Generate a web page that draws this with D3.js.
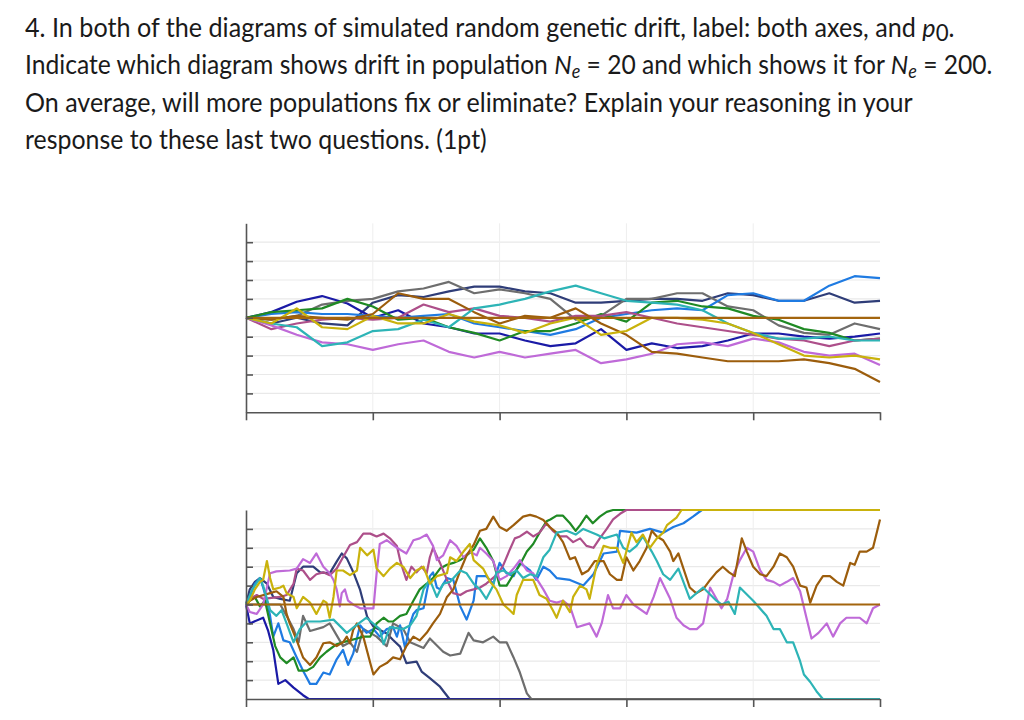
<!DOCTYPE html>
<html>
<head>
<meta charset="utf-8">
<script src="https://cdn.jsdelivr.net/npm/d3@7"></script>
<style>
  body { margin: 0; background: #fff; }
  svg { display: block; }
  .q { font-family: Lato, "Open Sans", sans-serif; font-size: 26px; fill: #1a1a1a; }
</style>
</head>
<body>
<svg id="page" width="1024" height="720"></svg>
<script>
// question text, one entry per printed line
const questionLines = [
  [{ t: '4. In both of the diagrams of simulated random genetic drift, label: both axes, and ' }, { t: 'p', i: true }, { t: '0', sub: true }, { t: '.' }],
  [{ t: 'Indicate which diagram shows drift in population ' }, { t: 'N', i: true }, { t: 'e', i: true, sub: true }, { t: ' = 20 and which shows it for ' }, { t: 'N', i: true }, { t: 'e', i: true, sub: true }, { t: ' = 200.' }],
  [{ t: 'On average, will more populations fix or eliminate? Explain your reasoning in your' }],
  [{ t: 'response to these last two questions. (1pt)' }]
];
const lineWidths = [930, 968, 888, 462];

const xTicks = [0, 20, 40, 60, 80, 100];
const yTicks = [0.1, 0.2, 0.3, 0.4, 0.5, 0.6, 0.7, 0.8, 0.9];
const p0 = 0.5;

// upper diagram (large population), read every 4 generations
const topGens = [0, 4, 8, 12, 16, 20, 24, 28, 32, 36, 40, 44, 48, 52, 56, 60, 64, 68, 72, 76, 80, 84, 88, 92, 96, 100];
const topGray = [.50, .49, .51, .57, .59, .60, .64, .655, .69, .63, .65, .63, .60, .49, .51, .60, .60, .63, .63, .56, .54, .46, .42, .41, .47, .44];
const topSlate = [.50, .47, .50, .47, .46, .58, .62, .61, .64, .665, .665, .64, .63, .58, .58, .59, .60, .60, .59, .63, .62, .59, .59, .63, .58, .59];
const topDarkBlue = [.50, .53, .585, .615, .576, .50, .54, .47, .45, .417, .417, .38, .35, .365, .44, .33, .365, .34, .35, .38, .417, .417, .40, .39, .40, .417];
const topBlue = [.50, .52, .53, .52, .52, .51, .50, .51, .52, .47, .45, .43, .41, .44, .50, .52, .54, .55, .54, .62, .63, .59, .59, .67, .72, .71];
const topGreen = [.50, .53, .54, .55, .60, .56, .49, .50, .45, .42, .38, .43, .43, .47, .52, .48, .58, .59, .56, .55, .51, .49, .44, .42, .38, .39];
const topPlum = [.50, .44, .47, .49, .50, .49, .50, .57, .53, .55, .51, .50, .48, .51, .51, .53, .50, .47, .45, .43, .41, .39, .38, .35, .38, .39];
const topPurple = [.50, .46, .41, .37, .36, .33, .36, .38, .32, .29, .32, .29, .31, .33, .26, .28, .31, .36, .37, .35, .39, .37, .32, .30, .31, .25];
const topBrown = [.50, .49, .51, .50, .49, .52, .63, .60, .60, .53, .47, .51, .50, .55, .47, .41, .32, .31, .29, .27, .27, .27, .28, .26, .23, .16];
const topCyan = [.50, .47, .45, .35, .37, .43, .44, .49, .45, .55, .57, .60, .64, .67, .63, .59, .58, .57, .54, .47, .42, .39, .39, .40, .38, .38];
const topYellow = [.50, .47, .55, .45, .44, .51, .47, .47, .52, .48, .46, .42, .47, .50, .41, .43, .50, .50, .49, .47, .42, .36, .30, .29, .30, .28];

// lower diagram (small population), [generation, frequency] at turning points
const botSlate = [[0, .5], [0.6, .58], [1.4, .62], [2.2, .64], [3.3, .61], [4.3, .54], [5.4, .53], [6.9, .52], [8, .665], [9, .70], [10.6, .70], [11.7, .67], [13.2, .665], [14.3, .727], [15.1, .77], [15.9, .744], [17, .665], [18, .577], [19.1, .436], [20.1, .383], [22.2, .347], [23.2, .312], [24.3, .277], [25.3, .19], [26.9, .198], [27.7, .145], [29, .11], [30.6, .065], [32.1, 0], [100, 0]];
const botDarkBlue = [[0, .5], [0.6, .40], [2.7, .43], [3.5, .36], [4.3, .26], [5.1, .08], [6.2, .10], [7.5, .06], [9, .02], [9.9, 0], [100, 0]];
const botGray = [[0, .5], [2.7, .5], [5.4, .5], [6.4, .44], [7.5, .37], [8.3, .30], [9, .44], [10.1, .36], [12.2, .38], [13.2, .40], [15.3, .28], [16.4, .30], [17.5, .25], [18.5, .37], [20.6, .33], [22.2, .28], [23.2, .40], [24.8, .37], [25.9, .30], [28, .27], [29, .32], [31.1, .25], [32.2, .23], [33.8, .24], [35.1, .35], [35.9, .31], [37.4, .30], [39, .33], [40, .30], [41.1, .30], [42.2, .22], [43.2, .14], [44.3, .03], [45, 0], [100, 0]];
const botBlue = [[0, .5], [0.6, .54], [1.4, .61], [2.2, .64], [2.7, .59], [3.3, .52], [3.8, .44], [4.3, .33], [5.1, .40], [5.9, .31], [6.9, .30], [8, .22], [9, .15], [10.1, .08], [11.1, .08], [12.2, .14], [13.2, .13], [14.3, .21], [15.3, .26], [16.1, .18], [16.9, .24], [18, .39], [19, .35], [20.1, .37], [21.1, .33], [22.2, .37], [23.2, .38], [23.8, .33], [24.3, .39], [25.1, .27], [25.9, .40], [26.4, .45], [26.9, .47], [28, .48], [29, .65], [29.5, .67], [30.1, .59], [30.6, .58], [31.7, .64], [32.7, .63], [33.8, .49], [34.8, .42], [35.9, .52], [36.4, .65], [37.9, .65], [39, .61], [40, .72], [41.1, .665], [42.2, .65], [43.2, .72], [44.8, .68], [45.8, .63], [46.9, .70], [47.9, .68], [49, .64], [51.1, .63], [53.2, .60], [54.8, .66], [56.4, .77], [58.5, .78], [59, .89], [61.6, .88], [63.7, .90], [65.8, .88], [67.4, .91], [69, .93], [70.5, .965], [71.9, 1], [100, 1]];
const botGreen = [[0, .5], [0.6, .52], [1.4, .54], [2.2, .49], [3, .52], [3.8, .40], [4.6, .28], [5.4, .22], [6.4, .19], [7.5, .22], [8.3, .15], [9.6, .15], [10.6, .17], [11.7, .22], [12.7, .25], [14.3, .29], [15.3, .30], [16.4, .31], [17.5, .32], [18.5, .33], [19.6, .33], [20.6, .40], [21.7, .43], [22.5, .41], [23.2, .41], [24.3, .44], [25.3, .45], [26.4, .52], [27.4, .58], [28.5, .61], [29.5, .64], [30.6, .69], [31.7, .71], [32.7, .72], [33.8, .735], [34.8, .76], [35.9, .79], [36.9, .85], [37.9, .80], [39, .73], [40, .60], [41.1, .60], [42.2, .66], [43.2, .71], [44.3, .78], [45.3, .82], [46.3, .88], [47.4, .94], [48, .95], [49, .97], [50, .97], [51.1, .93], [52, .89], [52.7, .92], [53.7, .97], [54.7, .93], [55.8, .965], [56.9, .99], [57.9, 1], [100, 1]];
const botPlum = [[0, .5], [0.6, .53], [1.7, .55], [2.7, .53], [5.4, .54], [6.4, .55], [7.5, .61], [8, .69], [9, .68], [10.1, .63], [11.1, .66], [12.2, .67], [13.2, .655], [14.3, .69], [15.3, .75], [16.4, .815], [17.5, .83], [18.5, .875], [19.6, .875], [20.6, .86], [21.7, .875], [22.7, .85], [23.8, .81], [24.3, .735], [24.8, .68], [25.3, .63], [26.1, .70], [26.9, .67], [27.7, .70], [28.5, .665], [29, .75], [29.5, .80], [30.6, .72], [31.7, .63], [32.7, .56], [33.8, .55], [34.8, .57], [35.9, .58], [36.9, .59], [37.9, .61], [39.5, .655], [40, .675], [40.6, .71], [41.6, .79], [42.4, .85], [43.2, .86], [44.3, .885], [45.3, .86], [46.3, .88], [47.4, .93], [48.4, .89], [49.5, .86], [50.6, .86], [51.6, .83], [52.7, .85], [53.7, .81], [54.8, .80], [55.8, .85], [56.9, .90], [57.9, .95], [59, .98], [60, 1], [100, 1]];
const botPurple = [[0, .5], [0.6, .46], [1.7, .45], [2.7, .50], [3.8, .665], [4.8, .675], [6.9, .68], [8, .69], [9, .74], [10.1, .72], [11.1, .77], [12.2, .70], [13.2, .665], [13.8, .63], [14.3, .58], [14.8, .49], [15.1, .56], [15.6, .58], [16.1, .52], [16.9, .50], [18, .48], [20.1, .48], [20.6, .665], [21.1, .82], [22.2, .84], [23.8, .80], [25.3, .77], [26.4, .84], [27.4, .85], [28.5, .87], [29.5, .81], [30.1, .735], [31.1, .76], [32.2, .84], [33.2, .81], [34.3, .75], [35.3, .78], [36.4, .76], [36.9, .80], [37.9, .77], [39, .73], [40, .63], [41.1, .65], [42.2, .69], [43.2, .735], [44.3, .68], [45.3, .665], [46.9, .58], [47.9, .52], [49, .51], [50, .52], [51.1, .49], [52.2, .38], [54.2, .40], [55.3, .33], [56.1, .40], [57.1, .55], [57.9, .48], [59, .48], [60, .55], [61.1, .50], [63.2, .45], [64.3, .54], [65.3, .64], [66.9, .53], [67.9, .43], [69, .39], [70, .37], [71.1, .37], [72.1, .40], [73.2, .59], [74.2, .53], [75, .48], [75.9, .53], [76.9, .66], [77.9, .735], [79, .80], [80, .78], [81.1, .68], [82.1, .63], [83.2, .62], [84.2, .60], [85.3, .62], [86.3, .64], [87.4, .57], [88.4, .43], [89.2, .32], [90.3, .35], [91.6, .40], [92.6, .33], [93.7, .40], [94.7, .43], [96.8, .43], [97.9, .40], [98.9, .48], [100, .50]];
const botBrown = [[0, .5], [0.6, .52], [1.7, .54], [3.8, .56], [4.8, .57], [5.9, .54], [6.4, .45], [6.9, .40], [8, .31], [9, .22], [10.1, .18], [11.1, .22], [12.2, .295], [13.2, .30], [14.3, .28], [15.3, .30], [15.9, .33], [16.4, .295], [16.9, .365], [17.5, .40], [18.5, .33], [19.6, .19], [20.1, .13], [21.1, .17], [22.2, .19], [23.2, .22], [24.3, .21], [25.3, .28], [26.4, .33], [27.4, .31], [28.5, .35], [29.5, .40], [30.6, .45], [31.7, .54], [32.7, .58], [33.8, .68], [34.8, .76], [35.9, .815], [36.9, .89], [37.9, .90], [39, .965], [40, .91], [41.1, .89], [42.2, .92], [43.7, .965], [44.8, .974], [45.8, .965], [46.9, .947], [47.9, .91], [49, .88], [50, .83], [51.1, .74], [51.9, .75], [53, .66], [54, .68], [55, .73], [56.4, .73], [57.4, .66], [58.5, .63], [59.2, .63], [60, .75], [61.1, .68], [62.1, .73], [63.2, .80], [64, .89], [64.8, .86], [65.8, .84], [66.9, .78], [67.4, .73], [68.2, .77], [69, .69], [70, .59], [71, .56], [72.1, .58], [73.2, .63], [74.2, .67], [75.2, .70], [76.2, .67], [77.1, .65], [78.2, .85], [79, .78], [80, .70], [81.1, .66], [82.1, .65], [83.2, .70], [84.2, .77], [85.3, .75], [86.3, .70], [87.4, .60], [88.4, .59], [89, .51], [90, .60], [91, .65], [92.1, .65], [93.2, .62], [94.2, .60], [95.3, .72], [96, .71], [96.8, .78], [97.9, .78], [98.9, .80], [100, .95]];
const botCyan = [[0, .5], [1, .58], [2.2, .64], [2.7, .60], [3.8, .47], [4.8, .44], [5.6, .47], [6.4, .40], [7.5, .30], [8.5, .37], [9.6, .41], [11.7, .41], [13.8, .42], [15.9, .35], [17, .38], [19, .43], [21.1, .37], [21.7, .29], [22.7, .38], [24.8, .37], [25.9, .39], [26.9, .44], [28, .58], [29, .63], [30.1, .54], [31.1, .61], [32.2, .62], [33.8, .68], [34.8, .665], [35.9, .61], [36.9, .58], [37.9, .53], [39, .60], [39.5, .67], [40.6, .68], [41.6, .66], [42.7, .68], [43.7, .64], [44.8, .66], [45.8, .65], [46.9, .75], [47.9, .79], [49, .88], [50.6, .89], [52, .87], [53.2, .90], [55.3, .87], [56.5, .85], [58.5, .87], [59.5, .80], [60.5, .78], [61.6, .81], [62.6, .86], [64, .78], [64.8, .73], [65.8, .66], [66.9, .63], [68.2, .69], [70, .53], [72.1, .59], [74.2, .52], [75, .50], [76.1, .515], [77.1, .45], [77.9, .59], [80, .52], [82.1, .44], [83.2, .37], [84.2, .37], [85.3, .30], [86.3, .30], [87.4, .20], [88, .13], [89, .09], [90, .04], [91, 0], [100, 0]];
const botYellow = [[0, .5], [0.6, .52], [1.4, .58], [2.2, .62], [2.7, .63], [3.3, .73], [3.8, .64], [4.3, .58], [5.4, .59], [5.9, .60], [6.4, .56], [7.5, .54], [8, .48], [9, .54], [10.1, .51], [11.1, .45], [12.2, .52], [12.7, .51], [13.2, .43], [13.8, .54], [14.3, .68], [15.3, .68], [16.4, .655], [17.5, .68], [18, .80], [19.1, .76], [20.1, .79], [20.6, .69], [21.7, .65], [22.7, .69], [23.8, .72], [24.8, .70], [25.9, .64], [26.9, .68], [28, .70], [29, .61], [30.1, .65], [31.7, .665], [32.2, .75], [33.2, .73], [34.3, .78], [35.3, .82], [35.9, .735], [37.4, .69], [38.5, .62], [39.5, .58], [40.6, .50], [41.6, .47], [42.2, .45], [42.7, .55], [43.7, .63], [45.3, .63], [46.3, .55], [47.4, .53], [48.4, .47], [49, .43], [50, .52], [51.1, .46], [51.6, .54], [52.7, .60], [53.7, .58], [54.2, .53], [55.3, .71], [56.4, .81], [57.4, .80], [58.5, .80], [59.5, .72], [60.8, .88], [61.6, .83], [62.6, .87], [63.7, .80], [64.8, .85], [65.8, .88], [66.4, .92], [67.9, .96], [68.7, 1], [100, 1]];

// drawing order and colours, shared by both diagrams
const seriesNames = ['slate', 'darkBlue', 'gray', 'blue', 'green', 'plum', 'purple', 'brown', 'cyan', 'yellow'];
const seriesColors = {
  slate: '#2f3d78', darkBlue: '#1a1aa6', gray: '#6e6e6e', blue: '#1f7be2', green: '#1f8a24',
  plum: '#ad4f8a', purple: '#bf6ad8', brown: '#9c5d0c', cyan: '#2db4b6', yellow: '#c9b20c'
};
const p0Color = '#a3650e';

const topSeries = {
  slate: topSlate, darkBlue: topDarkBlue, gray: topGray, blue: topBlue, green: topGreen,
  plum: topPlum, purple: topPurple, brown: topBrown, cyan: topCyan, yellow: topYellow
};
const bottomSeries = {
  slate: botSlate, darkBlue: botDarkBlue, gray: botGray, blue: botBlue, green: botGreen,
  plum: botPlum, purple: botPurple, brown: botBrown, cyan: botCyan, yellow: botYellow
};

const svg = d3.select('#page');

//
// question text
//
questionLines.forEach((parts, k) => {
  const text = svg.append('text')
    .attr('class', 'q')
    .attr('x', 0)
    .attr('y', 0);

  parts.forEach(part => {
    const span = text.append('tspan').text(part.t);
    if (part.i) span.style('font-style', 'italic');
    if (part.sub) span.attr('dy', 4).style('font-size', part.i ? '19px' : '23px');
  });
  // undo the subscript shift for the text after it
  text.selectAll('tspan').each(function (d, j) {
    if (j > 0 && parts[j - 1].sub && !parts[j].sub) d3.select(this).attr('dy', -4);
  });

  const w = text.node().getComputedTextLength();
  const sx = lineWidths[k] / w;
  text.attr('transform', `translate(25,${36.5 + k * 37.5}) scale(${sx},1)`);
});

//
// one diagram
//
function drawPanel(yTop, yBottom, series, gens) {
  const x = d3.scaleLinear().domain([0, 100]).range([246, 880]);
  const y = d3.scaleLinear().domain([0, 1]).range([yBottom, yTop]);
  const g = svg.append('g');

  // grid
  g.append('g')
    .selectAll('line')
    .data(yTicks)
    .enter()
    .append('line')
    .attr('x1', x(0))
    .attr('x2', x(100))
    .attr('y1', d => y(d))
    .attr('y2', d => y(d))
    .attr('stroke', '#e9e9e9')
    .attr('stroke-width', 1.2);

  g.append('g')
    .selectAll('line')
    .data(xTicks.slice(1, -1))
    .enter()
    .append('line')
    .attr('x1', d => x(d))
    .attr('x2', d => x(d))
    .attr('y1', y(1))
    .attr('y2', y(0))
    .attr('stroke', '#eeeeee')
    .attr('stroke-width', 1);

  // series
  const line = d3.line()
    .x(d => x(d[0]))
    .y(d => y(d[1]));

  seriesNames.forEach(name => {
    const raw = series[name];
    const pts = gens ? raw.map((v, i) => [gens[i], v]) : raw;
    g.append('path')
      .datum(pts)
      .attr('d', line)
      .attr('fill', 'none')
      .attr('stroke', seriesColors[name])
      .attr('stroke-width', 2.2)
      .attr('stroke-linejoin', 'round');
  });

  // starting frequency
  g.append('line')
    .attr('x1', x(0))
    .attr('x2', x(100))
    .attr('y1', y(p0))
    .attr('y2', y(p0))
    .attr('stroke', p0Color)
    .attr('stroke-width', 2.2);

  // axes
  const yAxis = g.append('g')
    .attr('transform', `translate(${x(0)},0)`)
    .call(d3.axisLeft(y).tickValues(yTicks).tickSize(-7).tickSizeOuter(0).tickFormat(''));

  const xAxis = g.append('g')
    .attr('transform', `translate(0,${y(0)})`)
    .call(d3.axisBottom(x).tickValues(xTicks).tickSize(8).tickSizeOuter(0).tickFormat(''));

  [yAxis, xAxis].forEach(a => {
    a.selectAll('path, line')
      .attr('stroke', '#555')
      .attr('stroke-width', 1.6);
  });
}

drawPanel(223.3, 412.3, topSeries, topGens);
drawPanel(510, 699, bottomSeries, null);
</script>
</body>
</html>
